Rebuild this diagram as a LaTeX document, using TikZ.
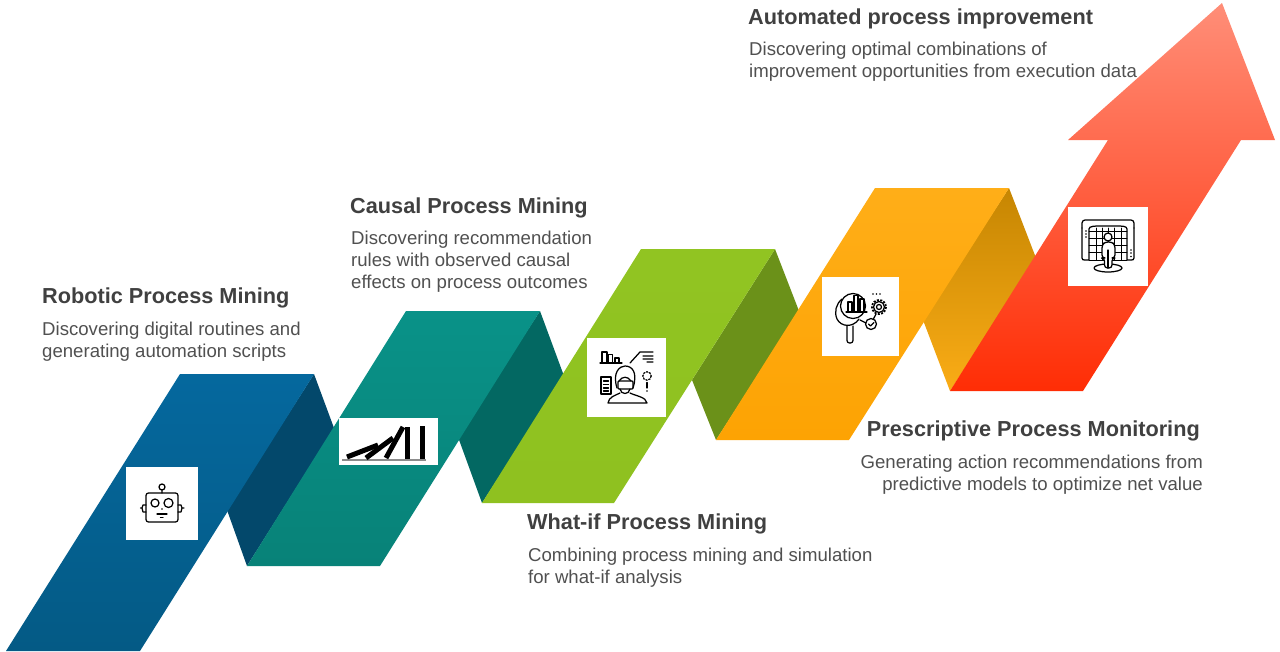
\documentclass[tikz,border=0pt]{standalone}
\usepackage{fontspec}
\setmainfont{Liberation Sans}
\definecolor{ttl}{HTML}{404040}
\definecolor{bdy}{HTML}{505050}
\tikzset{
  titletext/.style={anchor=base west,inner sep=0pt,text=ttl,font=\fontsize{21.7}{26}\selectfont\bfseries},
  bodytext/.style={anchor=north west,inner sep=0pt,text=bdy,align=left,font=\fontsize{18.6}{22.3}\selectfont},
  bodyright/.style={anchor=north east,inner sep=0pt,text=bdy,align=right,font=\fontsize{18.6}{22.3}\selectfont},
  iconbox/.style={fill=white,draw=none},
  ic/.style={draw=black,line width=1.25pt,line cap=round,line join=round},
  icf/.style={ic,fill=white},
  dom/.style={draw=black,line width=5pt},
}
\begin{document}
\begin{tikzpicture}[x=1pt,y=-1pt]
\useasboundingbox (0,0) rectangle (1280,651);
% folds
\fill[color={rgb,255:red,3;green,72;blue,107}] (314,374) -- (334,428) -- (247,566) -- (227,510) -- cycle;
\fill[color={rgb,255:red,3;green,104;blue,98}] (540,311) -- (564,376) -- (482,503) -- (458,437) -- cycle;
\fill[color={rgb,255:red,107;green,145;blue,25}] (775,249) -- (799,311) -- (716,440) -- (692,380) -- cycle;
\shade[top color={rgb,255:red,198;green,134;blue,2},bottom color={rgb,255:red,250;green,172;blue,22}] (1009,188) -- (1036,258) -- (950,391) -- (923,320) -- cycle;
% ribbons
\shade[top color={rgb,255:red,5;green,104;blue,158},bottom color={rgb,255:red,4;green,90;blue,133}] (180,374) -- (314,374) -- (140,651) -- (6,651) -- cycle;
\shade[top color={rgb,255:red,9;green,146;blue,136},bottom color={rgb,255:red,8;green,130;blue,120}] (406,311) -- (540,311) -- (380,566) -- (247,566) -- cycle;
\shade[top color={rgb,255:red,145;green,196;blue,34},bottom color={rgb,255:red,143;green,193;blue,32}] (641,249) -- (775,249) -- (614,503) -- (482,503) -- cycle;
\shade[top color={rgb,255:red,255;green,174;blue,24},bottom color={rgb,255:red,253;green,163;blue,3}] (875,188) -- (1009,188) -- (849,440) -- (716,440) -- cycle;
% arrow
\shade[top color={rgb,255:red,255;green,142;blue,120},middle color={rgb,255:red,255;green,84;blue,50},bottom color={rgb,255:red,255;green,45;blue,5}]
  (1222,3) -- (1275,140) -- (1241,140) -- (1083,391) -- (950,391) -- (1108,140) -- (1068,140) -- cycle;
% icon boxes
\fill[iconbox] (126,467) rectangle (198,540);
\fill[iconbox] (339,418) rectangle (438,465);
\fill[iconbox] (587,338) rectangle (666,417);
\fill[iconbox] (822,277) rectangle (899,356);
\fill[iconbox] (1068,207) rectangle (1148,286);
% robot
\draw[ic] (146,495.5) arc[start angle=180,end angle=270,radius=2.5] -- (175.5,493) arc[start angle=-90,end angle=0,radius=2.5] -- (178,519.5) arc[start angle=0,end angle=90,radius=2.5] -- (148.5,522) arc[start angle=90,end angle=180,radius=2.5] -- cycle;
\draw[ic] (162,487) circle[radius=3] (162,490) -- (162,493);
\draw[ic] (155,503) circle[radius=4] (168.5,503) circle[radius=4.5];
\draw[ic] (157,514) -- (167,514) (160.5,517.5) -- (163,517.5);
\fill (162,509) circle[radius=0.8];
\draw[ic] (146,505) -- (143,505) -- (142,508) -- (140.5,508) (142,508) -- (143,512) -- (146,512);
\draw[ic] (178,505) -- (181,505) -- (182,508) -- (184,508) (182,508) -- (181,512) -- (178,512);
% dominoes
\draw[draw=black!45,line width=1.2pt] (342,460) -- (426,460);
\draw[dom] (347,457) -- (378,445);
\draw[dom] (366,458) -- (393,438);
\draw[dom] (386,458) -- (403,427);
\draw[dom] (407,427) -- (407,459);
\draw[dom] (422,426) -- (422,459);
% VR person
\draw[ic] (600,363) -- (622,363) (602,363) -- (602,352) -- (607,352) -- (607,363) (608.5,363) -- (608.5,354.5) -- (612.5,354.5) -- (612.5,363) (615,363) -- (615,358) -- (619,358) -- (619,363);
\draw[ic] (630,363) -- (640,352) -- (653,352) (643,356) -- (653,356) (643,359) -- (653,359) (647,362) -- (653,362);
\draw[ic] (601,377) rectangle (611,394) (603.5,381) -- (608.5,381) (603.5,384.5) -- (608.5,384.5) (603.5,388) -- (608.5,388) (603.5,391) -- (608.5,391);
\draw[ic] (617,388) .. controls (612,372) and (620,366) .. (625,366) .. controls (632,366) and (638,372) .. (633,388);
\draw[ic] (619,381) .. controls (622,376) and (628,376) .. (631,381);
\draw[ic,rounded corners=1pt] (618,381) rectangle (633,389);
\draw[ic] (620,389) .. controls (621,395) and (629,395) .. (630,389);
\draw[ic] (608,403) -- (647,403) (608,403) .. controls (609,397) and (614,396) .. (620,393) (647,403) .. controls (646,397) and (636,396) .. (630,393);
\draw[ic,dash pattern=on 1.5pt off 1.6pt] (647,376) circle[radius=4.2];
\draw[ic] (647,382.5) -- (647,388);
\fill (647,391) circle[radius=0.9];
% magnifier
\draw[ic] (842,299) .. controls (836,304) and (834,312) .. (837,319) .. controls (841,327) and (853,328) .. (859,319);
\draw[ic,rounded corners=2.5pt] (847,326) -- (847,343) -- (853,343) -- (853,326);
\draw[icf] (853,306) circle[radius=12.5];
\draw[ic] (846,312) -- (867,312) (848,312) -- (848,302) -- (852,302) -- (852,312) (854,312) -- (854,295.5) -- (858,295.5) -- (858,312) (860,312) -- (860,299) -- (864,299) -- (864,312);
\draw[ic,dash pattern=on 2pt off 1.4pt,line width=1.8pt,line cap=butt] (879,307) circle[radius=7];
\draw[ic] (879,307) circle[radius=5.5] (879,307) circle[radius=2.5];
\fill (873,294) circle[radius=0.9] (876.5,294) circle[radius=0.9] (880,294) circle[radius=0.9];
\draw[ic] (871,324) circle[radius=5.5] (868.5,324) -- (870.5,326) -- (874,322.5);
\draw[ic] (876,314) -- (873.5,318.8);
\draw[ic] (860,320) -- (866,323);
% screen
\draw[ic,line width=0.8pt] (1089,231) -- (1127,231) (1089,238) -- (1127,238) (1089,245) -- (1127,245) (1089,252) -- (1127,252) (1089,260) -- (1127,260);
\draw[ic,line width=0.8pt] (1096,228) -- (1096,260) (1102,228) -- (1102,260) (1108,228) -- (1108,260) (1114,228) -- (1114,260) (1121,228) -- (1121,260);
\draw[ic,rounded corners=3pt] (1082,228) -- (1082,220) -- (1134,220) -- (1134,228);
\draw[ic] (1082,228) -- (1082,258) .. controls (1082,260) .. (1089,260) -- (1089,229) .. controls (1089,226) and (1095,226) .. (1100,226) -- (1116,226) .. controls (1122,226) and (1127,226) .. (1127,229) -- (1127,260) .. controls (1134,260) .. (1134,258) -- (1134,228);
\fill (1086,231) circle[radius=0.8] (1086,234) circle[radius=0.8] (1086,237) circle[radius=0.8] (1131,250) circle[radius=0.8] (1131,253) circle[radius=0.8] (1131,256.5) circle[radius=0.8];
\draw[icf] (1108,268) ellipse[x radius=14,y radius=4];
\draw[icf,rounded corners=3pt] (1104.5,268) -- (1104.5,258) -- (1102,258) -- (1102,245) -- (1105,242) -- (1112,242) -- (1115,245) -- (1115,258) -- (1112,258) -- (1112,268) -- cycle;
\draw[ic] (1108,250) -- (1108,268);
\draw[icf] (1108,237) circle[radius=4];
% texts
\node[titletext] (t1) at (42,303.5) {Robotic Process Mining};
\node[bodytext] (b1) at (42,321.5) {Discovering digital routines and\\generating automation scripts};
\node[titletext] (t2) at (350,213.5) {Causal Process Mining};
\node[bodytext] (b2) at (351,230.5) {Discovering recommendation\\rules with observed causal\\effects on process outcomes};
\node[titletext] (t3) at (527,529.5) {What-if Process Mining};
\node[bodytext] (b3) at (528,547.5) {Combining process mining and simulation\\for what-if analysis};
\node[titletext,anchor=base east] (t4) at (1200,436.5) {Prescriptive Process Monitoring};
\node[bodyright] (b4) at (1203,454.5) {Generating action recommendations from\\predictive models to optimize net value};
\node[titletext] (t5) at (748,24.5) {Automated process improvement};
\node[bodytext] (b5) at (749,41.5) {Discovering optimal combinations of\\improvement opportunities from execution data};
\end{tikzpicture}
\end{document}
